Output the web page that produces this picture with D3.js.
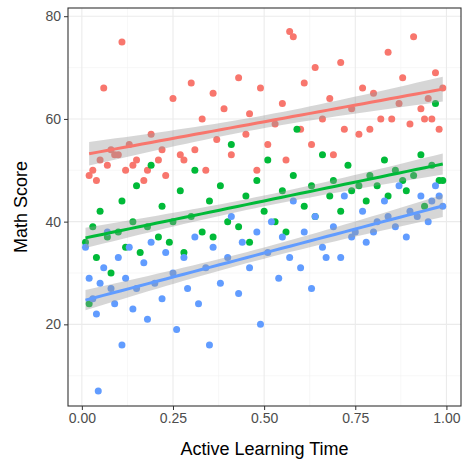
<!DOCTYPE html>
<html><head><meta charset="utf-8">
<script src="https://cdn.jsdelivr.net/npm/d3@7"></script>
<style>body{margin:0;background:#fff}text{font-family:"Liberation Sans",Arial,sans-serif}</style>
</head><body><svg width="474" height="474"></svg>
<script>
var red = [[0.02,49],[0.03,50],[0.04,48],[0.05,52],[0.06,66],[0.07,51],[0.08,54],[0.09,53],[0.10,53],[0.11,75],[0.12,50],[0.13,55],[0.14,51],[0.15,52],[0.17,48],[0.18,50],[0.19,57],[0.21,52],[0.22,54],[0.23,49],[0.25,64],[0.27,53],[0.28,52],[0.30,67],[0.31,54],[0.33,60],[0.34,50],[0.36,65],[0.37,56],[0.39,62],[0.41,53],[0.43,68],[0.45,57],[0.46,61],[0.48,50],[0.49,66],[0.51,55],[0.53,59],[0.55,63],[0.56,52],[0.57,77],[0.58,76],[0.60,58],[0.61,67],[0.63,55],[0.64,70],[0.66,60],[0.68,64],[0.69,53],[0.71,71],[0.72,58],[0.74,62],[0.76,57],[0.77,66],[0.79,58],[0.80,65],[0.82,60],[0.84,73],[0.85,60],[0.87,63],[0.88,68],[0.90,59],[0.91,76],[0.93,62],[0.94,60],[0.95,64],[0.97,69],[0.98,58],[0.99,66],[0.96,60]];
var green = [[0.01,36],[0.02,24],[0.03,39],[0.04,33],[0.05,42],[0.07,37],[0.08,30],[0.10,38],[0.11,44],[0.12,35],[0.14,40],[0.15,47],[0.16,34],[0.18,39],[0.19,51],[0.21,37],[0.22,43],[0.24,36],[0.25,40],[0.27,46],[0.28,34],[0.30,41],[0.31,50],[0.33,38],[0.35,44],[0.36,37],[0.38,47],[0.40,40],[0.41,55],[0.43,39],[0.45,45],[0.46,36],[0.48,48],[0.50,42],[0.51,52],[0.53,40],[0.55,46],[0.56,38],[0.58,49],[0.59,58],[0.61,43],[0.63,47],[0.64,41],[0.66,53],[0.68,45],[0.69,48],[0.71,42],[0.73,51],[0.74,46],[0.76,47],[0.78,44],[0.79,49],[0.81,47],[0.83,52],[0.84,45],[0.86,50],[0.88,48],[0.89,46],[0.91,49],[0.93,53],[0.94,43],[0.96,51],[0.97,63],[0.98,48],[0.99,48]];
var blue = [[0.01,35],[0.02,29],[0.03,25],[0.04,22],[0.045,7],[0.05,28],[0.06,31],[0.07,38],[0.08,27],[0.09,24],[0.10,33],[0.11,16],[0.12,29],[0.13,35],[0.14,23],[0.15,27],[0.17,32],[0.18,21],[0.19,36],[0.20,28],[0.22,25],[0.23,34],[0.25,30],[0.26,19],[0.28,33],[0.29,27],[0.31,37],[0.32,24],[0.34,31],[0.35,16],[0.36,35],[0.38,28],[0.40,33],[0.41,41],[0.43,26],[0.44,36],[0.46,31],[0.48,38],[0.49,20],[0.51,34],[0.52,40],[0.54,29],[0.55,37],[0.57,33],[0.58,44],[0.60,31],[0.61,38],[0.63,27],[0.64,41],[0.66,35],[0.67,33],[0.69,39],[0.71,33],[0.72,45],[0.74,37],[0.75,38],[0.77,42],[0.78,36],[0.80,38],[0.81,40],[0.83,44],[0.84,41],[0.86,39],[0.87,47],[0.89,37],[0.90,42],[0.92,41],[0.93,45],[0.95,40],[0.96,44],[0.97,47],[0.98,45],[0.99,43]];
var groups = [{d:red,c:"#F8766D"},{d:green,c:"#00BA38"},{d:blue,c:"#619CFF"}];
var xTicks = [0, 0.25, 0.5, 0.75, 1], yTicks = [20, 40, 60, 80];

var svg = d3.select("svg");
var L = 68, R = 461, T = 8, B = 406;
var x = d3.scaleLinear().domain([-0.038, 1.04]).range([L, R]);
var y = d3.scaleLinear().domain([4.1, 81.6]).range([B, T]);

// grid
[0.125,0.375,0.625,0.875].forEach(function(v){ svg.append("line").attr("x1",x(v)).attr("x2",x(v)).attr("y1",T).attr("y2",B).attr("stroke","#f2f2f2").attr("stroke-width",0.6); });
[10,30,50,70].forEach(function(v){ svg.append("line").attr("y1",y(v)).attr("y2",y(v)).attr("x1",L).attr("x2",R).attr("stroke","#f2f2f2").attr("stroke-width",0.6); });
xTicks.forEach(function(v){ svg.append("line").attr("x1",x(v)).attr("x2",x(v)).attr("y1",T).attr("y2",B).attr("stroke","#ebebeb").attr("stroke-width",1.1); });
yTicks.forEach(function(v){ svg.append("line").attr("y1",y(v)).attr("y2",y(v)).attr("x1",L).attr("x2",R).attr("stroke","#ebebeb").attr("stroke-width",1.1); });

groups.forEach(function(g){
  svg.append("g").selectAll("circle").data(g.d).enter().append("circle")
    .attr("cx",function(d){return x(d[0]);}).attr("cy",function(d){return y(d[1]);})
    .attr("r",3.5).attr("fill",g.c);
});

// linear fits with 95% band
groups.forEach(function(g){
  var n = g.d.length, mx = d3.mean(g.d,function(d){return d[0];}), my = d3.mean(g.d,function(d){return d[1];});
  var sxx = d3.sum(g.d,function(d){return (d[0]-mx)*(d[0]-mx);});
  var b = d3.sum(g.d,function(d){return (d[0]-mx)*(d[1]-my);})/sxx, a = my - b*mx;
  var s = Math.sqrt(d3.sum(g.d,function(d){var r=d[1]-a-b*d[0];return r*r;})/(n-2));
  var ext = d3.extent(g.d,function(d){return d[0];});
  var pts = d3.range(0,41).map(function(i){var xv=ext[0]+(ext[1]-ext[0])*i/40;
    var se = s*Math.sqrt(1/n+(xv-mx)*(xv-mx)/sxx); return {x:xv,f:a+b*xv,se:se};});
  svg.append("path").datum(pts).attr("fill","#999").attr("opacity",0.4)
    .attr("d",d3.area().x(function(p){return x(p.x);}).y0(function(p){return y(p.f-1.6*p.se);}).y1(function(p){return y(p.f+1.6*p.se);}));
  svg.append("path").datum(pts).attr("fill","none").attr("stroke",g.c).attr("stroke-width",3)
    .attr("d",d3.line().x(function(p){return x(p.x);}).y(function(p){return y(p.f);}));
});

svg.append("rect").attr("x",L).attr("y",T).attr("width",R-L).attr("height",B-T).attr("fill","none").attr("stroke","#333").attr("stroke-width",1.1);

svg.append("g").attr("transform","translate(0,"+B+")")
  .call(d3.axisBottom(x).tickValues(xTicks).tickFormat(d3.format(".2f")).tickSize(4).tickPadding(3))
  .call(function(g){g.select(".domain").remove();g.selectAll("line").attr("stroke","#333");g.selectAll("text").attr("fill","#4d4d4d").style("font-size","14px");});
svg.append("g").attr("transform","translate("+L+",0)")
  .call(d3.axisLeft(y).tickValues(yTicks).tickSize(4).tickPadding(3))
  .call(function(g){g.select(".domain").remove();g.selectAll("line").attr("stroke","#333");g.selectAll("text").attr("fill","#4d4d4d").style("font-size","14px");});

svg.append("text").attr("x",(L+R)/2).attr("y",455).attr("text-anchor","middle").style("font-size","18px").text("Active Learning Time");
svg.append("text").attr("transform","translate(27,"+((T+B)/2)+") rotate(-90)").attr("text-anchor","middle").style("font-size","18px").text("Math Score");
</script></body></html>
